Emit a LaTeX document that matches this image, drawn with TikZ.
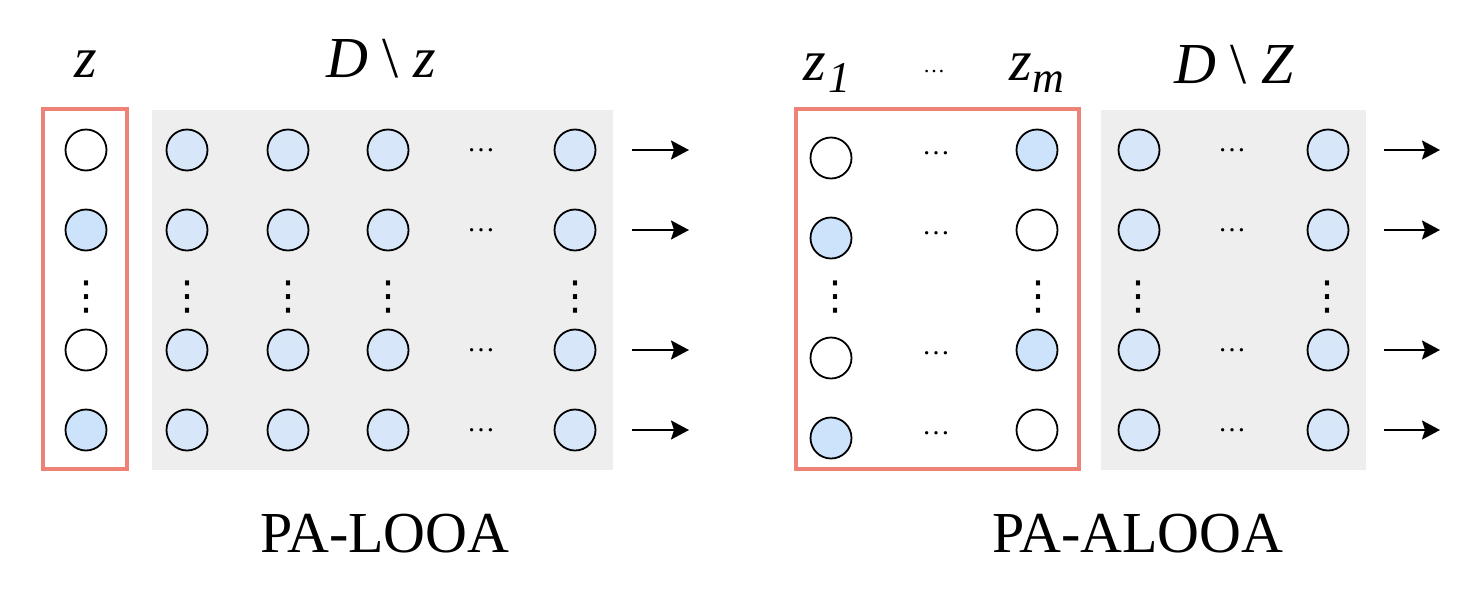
\documentclass[tikz,border=0pt]{standalone}
\usepackage{fontspec}
\setmainfont{Liberation Serif}
\newfontfamily\dotsfont{DejaVu Sans}
\usetikzlibrary{arrows.meta}
\definecolor{cellblue}{HTML}{D7E7F9}
\definecolor{pickblue}{HTML}{CDE3FB}
\definecolor{boxred}{HTML}{EE8276}
\definecolor{bggrey}{HTML}{EEEEEE}

\begin{document}
\begin{tikzpicture}[x=0.5pt,y=-0.5pt,
    unit/.style={circle,draw=black,line width=0.9pt,minimum size=20.5pt,inner sep=0pt},
    hdots/.style={inner sep=0pt,font=\fontsize{14pt}{14pt}\selectfont},
    vdots/.style={inner sep=0pt,font=\dotsfont\fontsize{20pt}{20pt}\selectfont},
    lbl/.style={inner sep=0pt,anchor=base,font=\fontsize{29pt}{29pt}\selectfont},
    arrow/.style={line width=1pt,-{Stealth[length=9pt,width=9.5pt,inset=1.5pt]}},
    redbox/.style={draw=boxred,line width=1.75pt}]
   \useasboundingbox (0,0) rectangle (1476,600);
   % backgrounds and frames
   \fill[bggrey] (152,110) rectangle (613,470);
   \fill[bggrey] (1101,110) rectangle (1366,470);
   \draw[redbox] (43,109) rectangle (127,469);
   \draw[redbox] (796,109) rectangle (1079,469);

   % PA-LOOA
   \foreach \r/\y/\f in {1/150/white,2/230/pickblue,3/350/white,4/430/pickblue} {
     \node[unit,fill=\f] (l1-\r) at (86,\y) {};
     \foreach \c/\x in {2/187,3/288,4/388,5/575}
       \node[unit,fill=cellblue] (l\c-\r) at (\x,\y) {};
     \node[hdots] (lh-\r) at (481,\y) {\textellipsis};
     \coordinate (la-\r) at (632,\y);
     \coordinate (lb-\r) at (689,\y);
     \draw[arrow] (la-\r) -- (lb-\r);
   }
   \foreach \c/\x in {1/86,2/187,3/288,4/388,5/575}
     \node[vdots] (lv-\c) at (\x,297) {⋮};
   \node[lbl] (lz) at (86,77) {\textit{z}};
   \node[lbl] (ldz) at (381,77) {\textit{D} \textbackslash\ \textit{z}};
   \node[lbl] (lname) at (385,552) {PA-LOOA};

   % PA-ALOOA
   \foreach \r/\y/\f/\g in {1/150/white/pickblue,2/230/pickblue/white,3/350/white/pickblue,4/430/pickblue/white} {
     \node[unit,fill=\f] (r1-\r) at (831,\y+8) {};
     \node[hdots] (rh-\r) at (936,\y+3) {\textellipsis};
     \node[unit,fill=\g] (r2-\r) at (1037,\y) {};
     \node[unit,fill=cellblue] (r3-\r) at (1139,\y) {};
     \node[hdots] (rg-\r) at (1232,\y) {\textellipsis};
     \node[unit,fill=cellblue] (r4-\r) at (1328,\y) {};
     \coordinate (ra-\r) at (1384,\y);
     \coordinate (rb-\r) at (1440,\y);
     \draw[arrow] (ra-\r) -- (rb-\r);
   }
   \foreach \c/\x in {1/835,2/1038,3/1138,4/1327}
     \node[vdots] (rv-\c) at (\x,297) {⋮};
   \node[lbl] (rz1) at (827,80) {\textit{z}\kern1.5pt\raisebox{-6pt}{\fontsize{22pt}{22pt}\selectfont\textit{1}}};
   \node[inner sep=0pt,font=\fontsize{11pt}{11pt}\selectfont] (rzd) at (934,72) {\textellipsis};
   \node[lbl] (rzm) at (1037,80) {\textit{z}\raisebox{-6pt}{\fontsize{22pt}{22pt}\selectfont\textit{m}}};
   \node[lbl] (rdz) at (1234,83) {\textit{D} \textbackslash\ \textit{Z}};
   \node[lbl] (rname) at (1138,552) {PA-ALOOA};
\end{tikzpicture}
\end{document}
